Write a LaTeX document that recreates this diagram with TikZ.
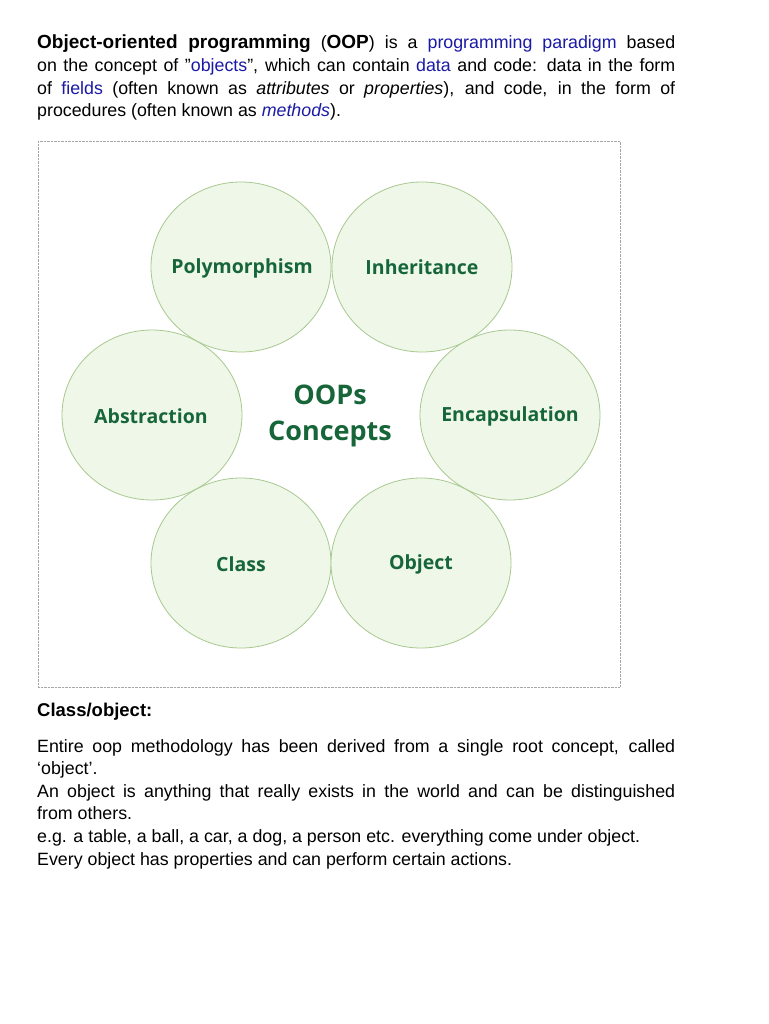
\documentclass[tikz,border=0pt]{standalone}
\usepackage{fontspec}
\setmainfont{Liberation Sans}
\newfontfamily\lblfont{Open Sans}
\usetikzlibrary{shapes.geometric}
\definecolor{lnk}{HTML}{1A1AA6}
\definecolor{cfill}{HTML}{EFF8E8}
\definecolor{cdraw}{HTML}{A8C890}
\definecolor{ctext}{HTML}{17663A}
\tikzset{
 concept/.style={ellipse,draw=cdraw,fill=cfill,line width=0.8pt,minimum width=180pt,minimum height=170pt,inner sep=0pt},
 lbl/.style={font=\lblfont\fontsize{19.5}{24}\selectfont\bfseries,text=ctext,inner sep=0pt},
 para/.style={anchor=north west,text width=638pt,align=justify,inner sep=0pt,font=\fontsize{17.8}{22.6}\selectfont}
}
\begin{document}
\begin{tikzpicture}[x=1pt,y=-1pt]
\useasboundingbox[fill=white] (0,0) rectangle (768,1024);
\node[para] (intro) at (37,35) {{\fontsize{19}{22}\selectfont\bfseries Object-oriented programming} (\textbf{\fontsize{19}{22}\selectfont OOP}) is a \textcolor{lnk}{programming paradigm} based\linebreak on the concept of \char34\textcolor{lnk}{objects}\char34, which can contain \textcolor{lnk}{data} and code: data in the form\linebreak of \textcolor{lnk}{fields} (often known as \textit{attributes} or \textit{properties}), and code, in the form of\linebreak procedures (often known as \textcolor{lnk}{\textit{methods}}).};
\draw[densely dotted,gray!70] (38,141) rectangle (620,687);
\node[concept] (poly) at (241,267) {};
\node[concept] (inh) at (422,267) {};
\node[concept] (abs) at (152,415) {};
\node[concept] (enc) at (510,415) {};
\node[concept] (cls) at (241,563) {};
\node[concept] (obj) at (421,563) {};
\node[lbl] (lpoly) at (242,268) {Polymorphism};
\node[lbl] (linh) at (422,267) {Inheritance};
\node[lbl] (labs) at (151,416) {Abstraction};
\node[lbl] (lenc) at (510,416) {Encapsulation};
\node[lbl] (lcls) at (241,564) {Class};
\node[lbl] (lobj) at (421,564) {Object};
\node[lbl,font=\lblfont\fontsize{27}{36}\selectfont\bfseries,align=center] (oops) at (330,416) {OOPs\\Concepts};
\node[anchor=north west,inner sep=0pt,font=\fontsize{18.5}{22}\selectfont\bfseries] (h2) at (37,703) {Class/object:};
\node[para] (body) at (37,739) {Entire oop methodology has been derived from a single root concept, called\linebreak ‘object’.\\
An object is anything that really exists in the world and can be distinguished\linebreak from others.\\
e.g. a table, a ball, a car, a dog, a person etc. everything come under object.\\
Every object has properties and can perform certain actions.};
\end{tikzpicture}
\end{document}
